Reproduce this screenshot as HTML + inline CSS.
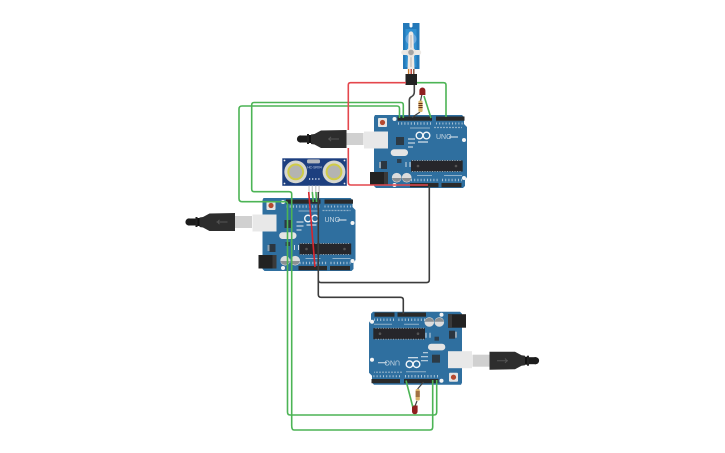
<!DOCTYPE html>
<html><head><meta charset="utf-8"><style>
html,body{margin:0;padding:0;background:#fff;width:725px;height:453px;overflow:hidden}
svg{display:block}
text{font-family:"Liberation Sans",sans-serif}
</style></head><body>
<svg width="725" height="453" viewBox="0 0 725 453" xmlns="http://www.w3.org/2000/svg">
<defs>
<g id="uno">
  <!-- board -->
  <path d="M1 0H88L90 2V9L93 12V62L91 65V71L89 73H2L0 71V2Z" fill="#2f6f9f"/>
  <!-- USB cable -->
  <circle cx="-73.5" cy="24" r="3.6" fill="#1c1c1c"/>
  <rect x="-74" y="20.5" width="8" height="7" fill="#1c1c1c"/>
  <rect x="-67" y="19" width="2" height="10" fill="#222"/>
  <rect x="-65" y="20" width="2" height="8" fill="#111"/>
  <path d="M-63 19.5L-59.5 19L-53 15.5L-27.5 15L-27.5 33L-53 33L-59.5 29.5L-63 29Z" fill="#2d2d2d"/>
  <path d="M-46 24h11m-8-2.2l-2 2.2 2 2.2" stroke="#555" stroke-width="1" fill="none"/>
  <rect x="-27.5" y="18" width="17" height="12" fill="#d0d0d0"/>
  <rect x="-10" y="16.5" width="24" height="17" fill="#e8e8e8"/>
  <rect x="-4" y="57" width="18" height="13.5" fill="#222"/>
  <rect x="10" y="57" width="4" height="13.5" fill="#3a3a3a"/>
  <!-- reset -->
  <rect x="4" y="3" width="9" height="9" rx="1" fill="#e4e4e4"/>
  <circle cx="8.5" cy="7.5" r="2.6" fill="#b5492f"/>
  <!-- headers -->
  <rect x="23.5" y="1.5" width="34.5" height="4.2" fill="#2a2a2a"/>
  <rect x="62" y="1.5" width="28.5" height="4.2" fill="#2a2a2a"/>
  <rect x="36" y="68" width="28.5" height="4.2" fill="#2a2a2a"/>
  <rect x="67.5" y="68" width="20" height="4.2" fill="#2a2a2a"/>
  <!-- pin labels -->
  <path d="M24 8.5H57" stroke="#a9c3d8" stroke-width="2.5" stroke-dasharray="1 2.2"/>
  <path d="M62 8.5H90" stroke="#a9c3d8" stroke-width="2" stroke-dasharray="1 2.2"/>
  <path d="M36 13H56" stroke="#8fb0c9" stroke-width="1" />
  <path d="M60 12.5H88" stroke="#8fb0c9" stroke-width="1.2" stroke-dasharray="2 1"/>
  <path d="M37 65H64" stroke="#a9c3d8" stroke-width="2.5" stroke-dasharray="1 2.2"/>
  <path d="M68 65H88" stroke="#a9c3d8" stroke-width="2.5" stroke-dasharray="1 2.2"/>
  <path d="M43 60.5H58M70 60.5H88" stroke="#8fb0c9" stroke-width="1"/>
  <path d="M34 24H41M34 28H41M34 32H39M75 22H84" stroke="#c3d4e1" stroke-width="1.2"/>
  <!-- holes -->
  <circle cx="20.5" cy="4" r="2" fill="#f4f4f4"/>
  <circle cx="90" cy="25" r="2" fill="#f4f4f4"/>
  <circle cx="90" cy="63" r="2" fill="#f4f4f4"/>
  <circle cx="20.5" cy="70" r="2" fill="#f4f4f4"/>
  <!-- chips -->
  <rect x="37" y="45.5" width="51.7" height="11" fill="#26262a"/>
  <path d="M38 45.5H88M38 56.5H88" stroke="#9aa3aa" stroke-width="1" stroke-dasharray="1 1.5"/>
  <circle cx="44" cy="51" r="1.3" fill="#555"/>
  <circle cx="82" cy="51" r="1.3" fill="#555"/>
  <rect x="22" y="22" width="8" height="8" fill="#2c3a45"/>
  <rect x="23" y="44" width="4.5" height="4" fill="#2c3f50"/>
  <rect x="7" y="46" width="6" height="8" fill="#2b3640"/>
  <rect x="5" y="47" width="2" height="6" fill="#8ea1b0"/>
  <rect x="16.7" y="34.3" width="17.3" height="6.7" rx="3.3" fill="#e4e4e4"/>
  <path d="M32 47v5M36 47v5" stroke="#cfdbe6" stroke-width="1"/>
  <!-- caps -->
  <circle cx="22.7" cy="62.7" r="4.8" fill="#dcdcdc"/>
  <path d="M18 63a4.8 4.8 0 0 0 9.4 0z" fill="#8a8f93"/>
  <circle cx="32.7" cy="62.7" r="4.8" fill="#dcdcdc"/>
  <path d="M28 63a4.8 4.8 0 0 0 9.4 0z" fill="#8a8f93"/>
  <!-- logo -->
  <circle cx="45.5" cy="20.5" r="3.3" fill="none" stroke="#f2f6f9" stroke-width="1.4"/>
  <circle cx="52.5" cy="20.5" r="3.3" fill="none" stroke="#f2f6f9" stroke-width="1.4"/>
  <path d="M44 27H54" stroke="#dce6ee" stroke-width="1.2"/>
  <text x="62" y="24" font-size="7" fill="#c5d6e3">UNO</text>
</g>
</defs>

<!-- boards -->
<use href="#uno" transform="translate(374 115)"/>
<use href="#uno" transform="translate(262.5 198)"/>
<use href="#uno" transform="translate(462 384.7) rotate(180)"/>

<!-- servo -->
<path d="M403 23H409.5V26.5a1.6 1.6 0 0 0 3 0V23H419.5V69H403Z" fill="#2479b9"/>
<rect x="405.5" y="29" width="11" height="38" fill="#2f8fd0"/>
<circle cx="411" cy="39" r="5.5" fill="#6aa9de"/>
<path d="M408.7 33L410 31.5H412L413.3 33L414.5 69H407.5Z" fill="#efe9e4"/>
<path d="M410.4 35H411.6V49H410.4ZM410.4 56H411.6V67H410.4Z" fill="#c4beb8"/>
<rect x="401.2" y="50" width="20" height="5" rx="2.5" fill="#ece8e4"/>
<circle cx="411" cy="52.4" r="4.8" fill="#e8e4e0"/>
<circle cx="411" cy="52.4" r="2.8" fill="#a4a4a4"/>
<path d="M408.6 69V75" stroke="#c9772a" stroke-width="1.4"/>
<path d="M411.2 69V75" stroke="#c0392b" stroke-width="1.4"/>
<path d="M413.8 69V75" stroke="#7a4a30" stroke-width="1.4"/>
<rect x="405.5" y="74" width="11.5" height="11" fill="#222"/>

<!-- sensor -->
<rect x="282.3" y="158.3" width="64.5" height="27.5" fill="#1d3f7f"/>
<rect x="307" y="159.4" width="13" height="4" rx="1.5" fill="#b4b8be"/>
<circle cx="295.7" cy="171.9" r="11.4" fill="#d6d6cf"/>
<circle cx="295.7" cy="171.9" r="8.4" fill="#cfcb48"/>
<circle cx="295.7" cy="171.9" r="6.4" fill="#b4b4b1"/>
<circle cx="334" cy="171.9" r="11.4" fill="#d6d6cf"/>
<circle cx="334" cy="171.9" r="8.4" fill="#cfcb48"/>
<circle cx="334" cy="171.9" r="6.4" fill="#b4b4b1"/>
<text x="314.5" y="168.5" font-size="3.4" text-anchor="middle" fill="#c8d4ea">HC-SR04</text>
<path d="M309 179h11" stroke="#dfe6f3" stroke-width="1.5" stroke-dasharray="1.2 1.9"/>
<circle cx="284.5" cy="160.5" r=".9" fill="#eee"/><circle cx="344.5" cy="160.5" r=".9" fill="#eee"/>
<circle cx="284.5" cy="183.5" r=".9" fill="#eee"/><circle cx="344.5" cy="183.5" r=".9" fill="#eee"/>
<rect x="308.4" y="185.5" width="1.3" height="7" fill="#c9c9c9"/>
<rect x="311.7" y="185.5" width="1.3" height="7" fill="#c9c9c9"/>
<rect x="315.1" y="185.5" width="1.3" height="7" fill="#c9c9c9"/>
<rect x="318.4" y="185.5" width="1.3" height="7" fill="#c9c9c9"/>

<!-- LEDs and resistors -->
<path d="M422 94L420.5 101M420 112L412 117.5" stroke="#444" stroke-width="1.2" fill="none"/>
<rect x="418.4" y="100.5" width="4.2" height="11.5" rx="1.4" fill="#d9b36c"/>
<path d="M418.4 103.5h4.2M418.4 105.5h4.2M418.4 107.5h4.2" stroke="#6a3018" stroke-width=".9"/>
<path d="M419.4 95V90.5a3 3 0 0 1 6 0V95Z" fill="#8f1f1f"/>
<path d="M423.5 382L417.6 389M417 401L415 406" stroke="#444" stroke-width="1.2" fill="none"/>
<rect x="415.6" y="389" width="4.2" height="11.5" rx="1.4" fill="#d9b36c"/>
<path d="M415.6 392h4.2M415.6 394h4.2M415.6 396h4.2" stroke="#6a3018" stroke-width=".9"/>
<path d="M412 405.5H417.6V411.5a2.8 2.8 0 0 1-5.6 0Z" fill="#8f1f1f"/>

<!-- wires -->
<g fill="none" stroke-width="1.6" stroke-linejoin="round">
  <path d="M403.3 118V105Q403.3 102.5 401 102.5H254Q251.7 102.5 251.7 105V189Q251.7 191.7 254 191.7H289Q291.7 191.7 291.7 194V425.5Q291.7 430 294 430H430Q432.7 430 432.7 427V380" stroke="#4cb455"/>
  <path d="M399.5 118V108.5Q399.5 106 397 106H242Q239 106 239 109V198.5Q239 201.7 242 201.7H285Q287.5 201.7 287.5 204V412Q287.5 415 290 415H434Q436.7 415 436.7 412V380" stroke="#4cb455"/>
  <path d="M417 82.7H443.5Q446 82.7 446 85V117" stroke="#4cb455"/>
  <path d="M424 96L431 118" stroke="#4cb455"/>
  <path d="M406 380.5L412.7 406.5" stroke="#4cb455"/>
  <path d="M312.3 192L313.3 202M316 192L316.5 202" stroke="#4cb455"/>
  <path d="M406 82.7H350.5Q348.3 82.7 348.3 85V130M348.3 148V182.5Q348.3 185 351 185H428" stroke="#e4474d"/>
  <path d="M308.7 192L315 267" stroke="#d9242c"/>
  <path d="M414.3 85V92Q414.3 95 411.8 96.5L411 97Q409.3 98 409.3 100.5V117" stroke="#444"/>
  <path d="M318.3 192V294.5Q318.3 297.3 321 297.3H400.5Q403.3 297.3 403.3 300V314" stroke="#3c3c3c"/>
  <path d="M429.3 186V279.8Q429.3 282.6 426.5 282.6H321Q318.3 282.6 318.3 280" stroke="#3c3c3c"/>
</g>
</svg>
</body></html>
